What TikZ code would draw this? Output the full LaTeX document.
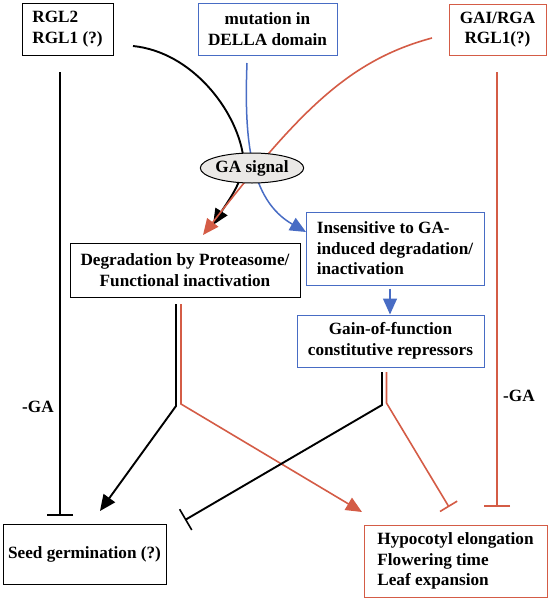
\documentclass[tikz,border=0pt]{standalone}
\usepackage{fontspec}
\setmainfont{Liberation Serif}
\usetikzlibrary{arrows.meta,shapes.geometric}
\pgfdeclarelayer{background}
\pgfsetlayers{background,main}
\definecolor{rd}{RGB}{212,92,70}
\definecolor{bl}{RGB}{72,108,196}
\definecolor{ellfill}{RGB}{234,232,230}
\begin{document}
\begin{tikzpicture}[x=1pt,y=-1pt,
  lbl/.style={font=\fontsize{17.2}{20.5}\selectfont\bfseries},
  bx/.style={lbl,draw,line width=1pt,inner sep=0pt},
  blk/.style={line width=1.9pt,black},
  red/.style={line width=1.6pt,rd},
  blu/.style={line width=1.5pt,bl},
  tri/.style={-{Triangle[length=16pt,width=14pt]}},
  tee/.style={-{Bar[width=#1,line width=1.6pt]}}
]
\useasboundingbox (0,0) rectangle (549,600);

% boxes
\node[bx,minimum width=91pt,minimum height=52pt,align=left] (rgl) at (67.5,29) {RGL2\\RGL1 (?)};
\node[bx,draw=bl,minimum width=139pt,minimum height=52pt,align=center] (mut) at (267.5,29) {mutation in\\DELLA domain};
\node[bx,draw=rd,minimum width=97pt,minimum height=51pt,align=center] (gai) at (497.5,29.5) {GAI/RGA\\RGL1(?)};
\node[lbl,draw,ellipse,fill=ellfill,line width=1pt,minimum width=93pt,minimum height=30pt,inner sep=0pt] (ga) at (252,168) {GA signal};
\node[bx,minimum width=230pt,minimum height=54pt,align=center] (deg) at (185,270) {Degradation by Proteasome/\\Functional inactivation};
\node[bx,draw=bl,minimum width=178pt,minimum height=73pt,align=left] (ins) at (395,248.5) {Insensitive to GA-\\induced degradation/\\inactivation};
\node[bx,draw=bl,minimum width=187pt,minimum height=52pt,align=center] (gain) at (390.5,341) {Gain-of-function\\constitutive repressors};
\node[bx,minimum width=163pt,minimum height=60pt] (seed) at (84.5,554) {Seed germination (?)};
\node[bx,draw=rd,minimum width=183pt,minimum height=72pt,align=left] (hyp) at (455.5,561) {Hypocotyl elongation\\Flowering time\\Leaf expansion};
\node[lbl] (gaL) at (38,407) {-GA};
\node[lbl] (gaR) at (519,396) {-GA};

% coordinates
\coordinate (bS) at (133,46);
\coordinate (bT) at (213,225);
\coordinate (rS) at (432,38);
\coordinate (rT) at (203,235);
\coordinate (uS) at (247,63);
\coordinate (uT) at (306,232);

\begin{pgfonlayer}{background}
\draw[blk,tri] (bS) .. controls (192,52) and (236,110) .. (243,155) .. controls (246,178) and (230,198) .. (bT);
\draw[red,tri] (rS) .. controls (350,60) and (300,110) .. (rT);
\draw[blu,tri] (uS) .. controls (244,140) and (250,200) .. (uT);
\end{pgfonlayer}

\draw[blu,tri] (ins.south -| 390,0) ++(0,3) -- (gain.north -| 390,0);

% inhibition lines
\draw[blk,tee=26pt] (60,72) -- (60,516);
\draw[red,tee=26pt] (497,72) -- (497,507);

% from degradation
\coordinate (d1) at (176,304);
\coordinate (d1b) at (176,406);
\coordinate (d2) at (181,304);
\coordinate (d2b) at (181,404);
\coordinate (sT) at (100,511);
\coordinate (hT) at (362,512);
\draw[blk,tri] (d1) -- (d1b) -- (sT);
\draw[red,tri] (d2) -- (d2b) -- (hT);

% from gain
\coordinate (g1) at (382,372);
\coordinate (g1b) at (382,405);
\coordinate (g2) at (386.5,372);
\coordinate (g2b) at (386.5,403);
\coordinate (sB) at (185,520);
\coordinate (hB) at (449,507);
\draw[blk,tee=24pt] (g1) -- (g1b) -- (sB);
\draw[red,tee=20pt] (g2) -- (g2b) -- (hB);
\end{tikzpicture}
\end{document}
